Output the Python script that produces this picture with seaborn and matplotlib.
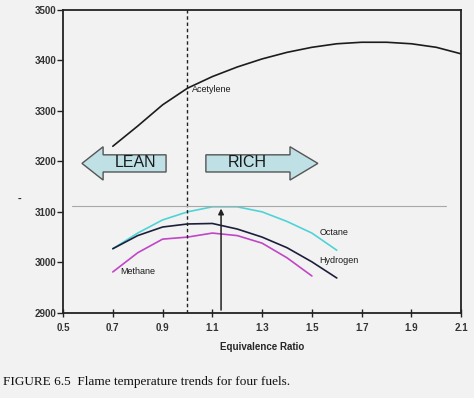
import matplotlib
matplotlib.use("Agg")
import matplotlib.pyplot as plt
import matplotlib.patches as mpatches
import pandas as pd
import seaborn as sns

# values
phi = [0.7, 0.8, 0.9, 1.0, 1.1, 1.2, 1.3, 1.4, 1.5, 1.6, 1.7, 1.8, 1.9, 2.0, 2.1]
acetylene = [3230, 3270, 3312, 3345, 3368, 3387, 3403, 3416, 3426, 3433, 3436, 3436, 3433, 3426, 3413]

phi_short = [0.7, 0.8, 0.9, 1.0, 1.1, 1.2, 1.3, 1.4, 1.5, 1.6]
octane = [3027, 3058, 3084, 3100, 3110, 3110, 3100, 3081, 3058, 3024]
hydrogen = [3027, 3053, 3070, 3076, 3077, 3066, 3050, 3029, 3001, 2969]

phi_methane = [0.7, 0.8, 0.9, 1.0, 1.1, 1.2, 1.3, 1.4, 1.5]
methane = [2981, 3019, 3046, 3050, 3058, 3053, 3038, 3009, 2973]

fuels = ["Acetylene", "Octane", "Hydrogen", "Methane"]
colors = ["#1c1c1c", "#4fd3d6", "#1e1e3c", "#c145c6"]

peak_temp = 3112
stoich = 1.0
peak_phi = 1.135

bg = "#f2f2f2"

frames = []
for name, xs, ys in [("Acetylene", phi, acetylene), ("Octane", phi_short, octane),
                     ("Hydrogen", phi_short, hydrogen), ("Methane", phi_methane, methane)]:
    frames.append(pd.DataFrame({"phi": xs, "T": ys, "fuel": name}))
df = pd.concat(frames, ignore_index=True)

sns.set_style("ticks")
plt.rcParams["font.family"] = ["Liberation Sans", "DejaVu Sans"]

fig = plt.figure(figsize=(4.74, 3.98), dpi=100, facecolor=bg)
ax = fig.add_axes([0.133, 0.214, 0.840, 0.761])
ax.set_facecolor(bg)

sns.lineplot(data=df, x="phi", y="T", hue="fuel", hue_order=fuels,
             palette=dict(zip(fuels, colors)), linewidth=1.2, legend=False, ax=ax)

ax.set_xlim(0.5, 2.1)
ax.set_ylim(2900, 3500)
ax.set_xticks([0.5, 0.7, 0.9, 1.1, 1.3, 1.5, 1.7, 1.9, 2.1])
ax.set_xticklabels(["0.5", "0.7", "0.9", "1.1", "1.3", "1.5", "1.7", "1.9", "2.1"])
ax.set_yticks([2900, 3000, 3100, 3200, 3300, 3400, 3500])
for s in ax.spines.values():
    s.set_visible(True)
    s.set_linewidth(1.3)
    s.set_color("#222222")
ax.tick_params(axis="x", direction="inout", length=6, width=1, labelsize=7, pad=4, colors="#222222")
ax.tick_params(axis="y", direction="out", length=4, width=1, labelsize=7, pad=1, colors="#222222")
for lab in ax.get_xticklabels() + ax.get_yticklabels():
    lab.set_fontweight("bold")
    lab.set_color("#333333")

ax.set_xlabel("Equivalence Ratio", fontsize=7, fontweight="bold", labelpad=7)
ax.set_ylabel("")

# reference lines
ax.axvline(stoich, color="#222222", lw=1, ls=(0, (2.5, 2)))
ax.plot([0.536, 2.04], [peak_temp, peak_temp], color="#a8a8a8", lw=0.8)
ax.annotate("", xy=(peak_phi, peak_temp), xytext=(peak_phi, 2900),
            arrowprops=dict(arrowstyle="-|>", color="#222222", lw=1.1, mutation_scale=8))

# lean / rich block arrows
arrow_style = dict(facecolor="#bfe0e4", edgecolor="#555555", lw=1.0,
                   length_includes_head=True, width=34, head_width=66)
ax.add_patch(mpatches.FancyArrow(0.914, 3196, 0.576 - 0.914, 0, head_length=0.085, **arrow_style))
ax.add_patch(mpatches.FancyArrow(1.074, 3196, 1.524 - 1.074, 0, head_length=0.112, **arrow_style))
ax.text(0.79, 3197, "LEAN", fontsize=11.5, ha="center", va="center", color="#1a1a1a")
ax.text(1.24, 3197, "RICH", fontsize=11.5, ha="center", va="center", color="#1a1a1a")

# curve labels
ax.text(1.02, 3343, "Acetylene", fontsize=6.5, va="center", color="#1a1a1a")
ax.text(1.53, 3060, "Octane", fontsize=6.5, va="center", color="#1a1a1a")
ax.text(1.53, 3003, "Hydrogen", fontsize=6.5, va="center", color="#1a1a1a")
ax.text(0.73, 2981, "Methane", fontsize=6.5, va="center", color="#1a1a1a")

fig.text(20 / 474, 1 - 199 / 398, "-", fontsize=8, fontweight="bold", ha="center", va="center")
fig.text(3 / 474, 1 - 382 / 398, "FIGURE 6.5  Flame temperature trends for four fuels.",
         fontsize=9.5, family=["Liberation Serif", "DejaVu Serif"], ha="left", va="center", color="#111111")

fig.savefig("out.png", dpi=100, facecolor=bg)
